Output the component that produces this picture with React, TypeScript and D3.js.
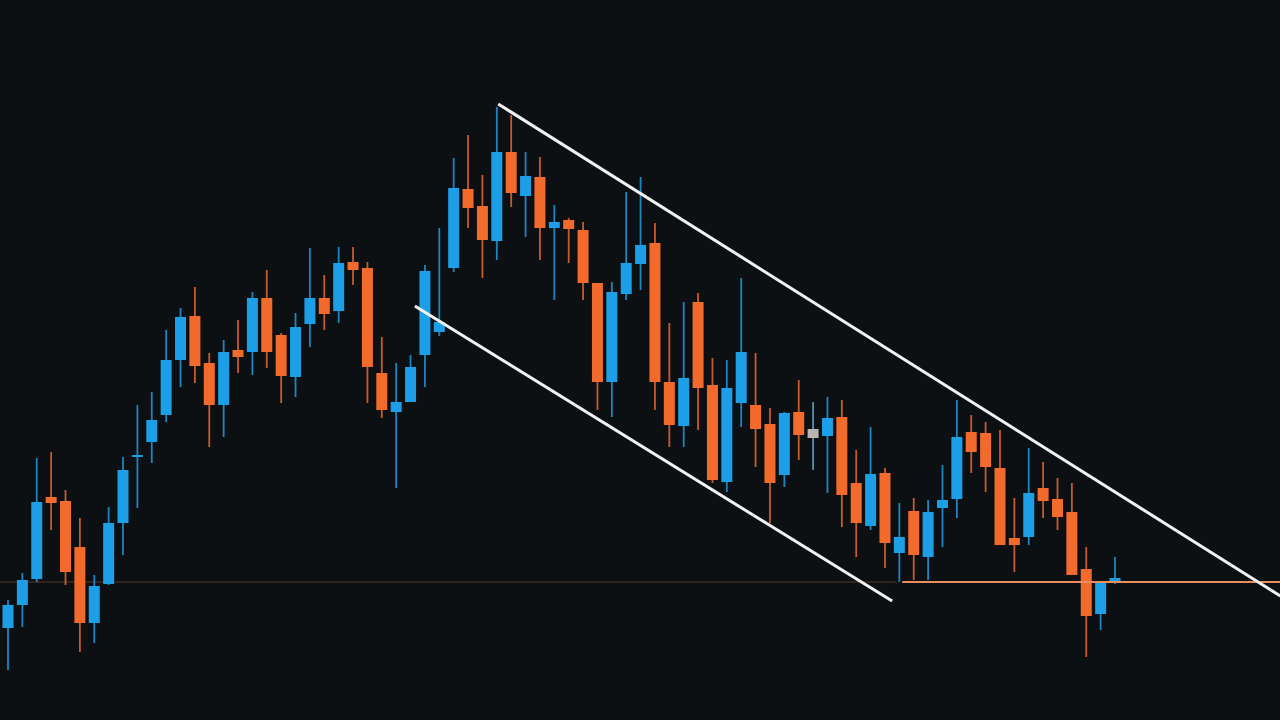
import React from "react";
import * as d3 from "d3";

// OHLC in price units (up = blue, down = orange)
const opens = [92,115,141,223,219,173,97,136,197,264,278,305,360,404,357,315,370,368,422,385,343,396,422,409,458,452,347,308,318,365,388,452,531,514,479,568,524,543,492,500,490,437,338,426,456,477,338,294,418,335,238,317,315,296,245,308,282,284,303,237,194,247,167,209,163,212,221,288,287,252,182,183,232,221,208,151,106,138];
const closes = [115,140,218,217,148,97,134,197,250,265,300,360,403,354,315,368,363,422,368,344,393,422,406,457,450,353,310,318,353,449,398,532,512,480,568,527,544,492,498,491,437,338,428,457,475,338,295,342,332,240,332,368,291,237,307,285,291,302,225,197,246,177,183,165,208,220,283,268,253,175,175,227,219,203,145,104,137,142];
const highs = [120,147,262,268,230,202,145,213,263,315,328,390,412,433,367,380,400,428,450,387,407,472,445,473,473,458,383,357,365,455,492,562,585,545,613,605,568,563,515,502,498,437,438,528,543,497,397,418,427,362,360,442,367,312,308,340,318,323,320,270,293,252,217,222,220,255,320,305,298,290,222,272,258,242,237,173,138,163];
const lows = [50,93,138,190,135,68,77,135,165,212,257,298,333,337,273,283,347,345,352,317,323,373,390,397,435,317,302,232,318,333,384,448,492,442,460,513,483,460,420,457,420,310,303,420,430,310,273,273,290,237,228,293,253,197,233,260,250,227,193,163,190,152,138,140,140,173,202,247,228,175,148,175,202,190,145,63,90,136];
const neutralIdx = [56];

// trend / level lines in (index, price) units
const upperTrend = [{ i: 34.1, p: 616 }, { i: 88.5, p: 124 }];
const lowerTrend = [{ i: 28.3, p: 414 }, { i: 61.5, p: 119 }];
const levelDim = [{ i: -0.6, p: 138 }, { i: 61.8, p: 138 }];
const levelBright = [{ i: 62.2, p: 138 }, { i: 88.5, p: 138 }];

const W = 1280;
const H = 720;
const BLUE = "#1c9fe6";
const ORANGE = "#f26a2c";
const BG = "#0c1013";

export default function App() {
  const x = d3.scaleLinear().domain([0, opens.length - 1]).range([8, 1115]);
  const y = d3.scaleLinear().domain([0, 720]).range([H, 0]);
  const bodyW = 11;
  const line = d3
    .line<{ i: number; p: number }>()
    .x((d) => x(d.i))
    .y((d) => y(d.p));

  return (
    <svg
      width={W}
      height={H}
      style={{ position: "fixed", left: 0, top: 0, display: "block", background: BG }}
    >
      <rect x={0} y={0} width={W} height={H} fill={BG} />
      <path d={line(levelDim) || ""} stroke="#5a3626" strokeWidth={1} fill="none" />
      {opens.map((o, k) => {
        const c = closes[k];
        const up = c >= o;
        const neutral = neutralIdx.includes(k);
        const col = neutral ? "#b9b4b0" : up ? BLUE : ORANGE;
        const wickCol = neutral ? "#4f8fb8" : up ? "#1a86c4" : "#c95a2a";
        const cx = x(k);
        const top = y(Math.max(o, c));
        const bot = y(Math.min(o, c));
        return (
          <g key={k}>
            <line
              x1={cx}
              x2={cx}
              y1={y(highs[k])}
              y2={y(lows[k])}
              stroke={wickCol}
              strokeWidth={1.8}
            />
            <rect
              x={cx - bodyW / 2}
              y={top}
              width={bodyW}
              height={Math.max(2, bot - top)}
              fill={col}
            />
          </g>
        );
      })}
      <path d={line(levelBright) || ""} stroke="#ec8d60" strokeWidth={2} fill="none" />
      <path d={line(upperTrend) || ""} stroke="#f2f2f2" strokeWidth={3} fill="none" />
      <path d={line(lowerTrend) || ""} stroke="#f2f2f2" strokeWidth={3} fill="none" />
    </svg>
  );
}
